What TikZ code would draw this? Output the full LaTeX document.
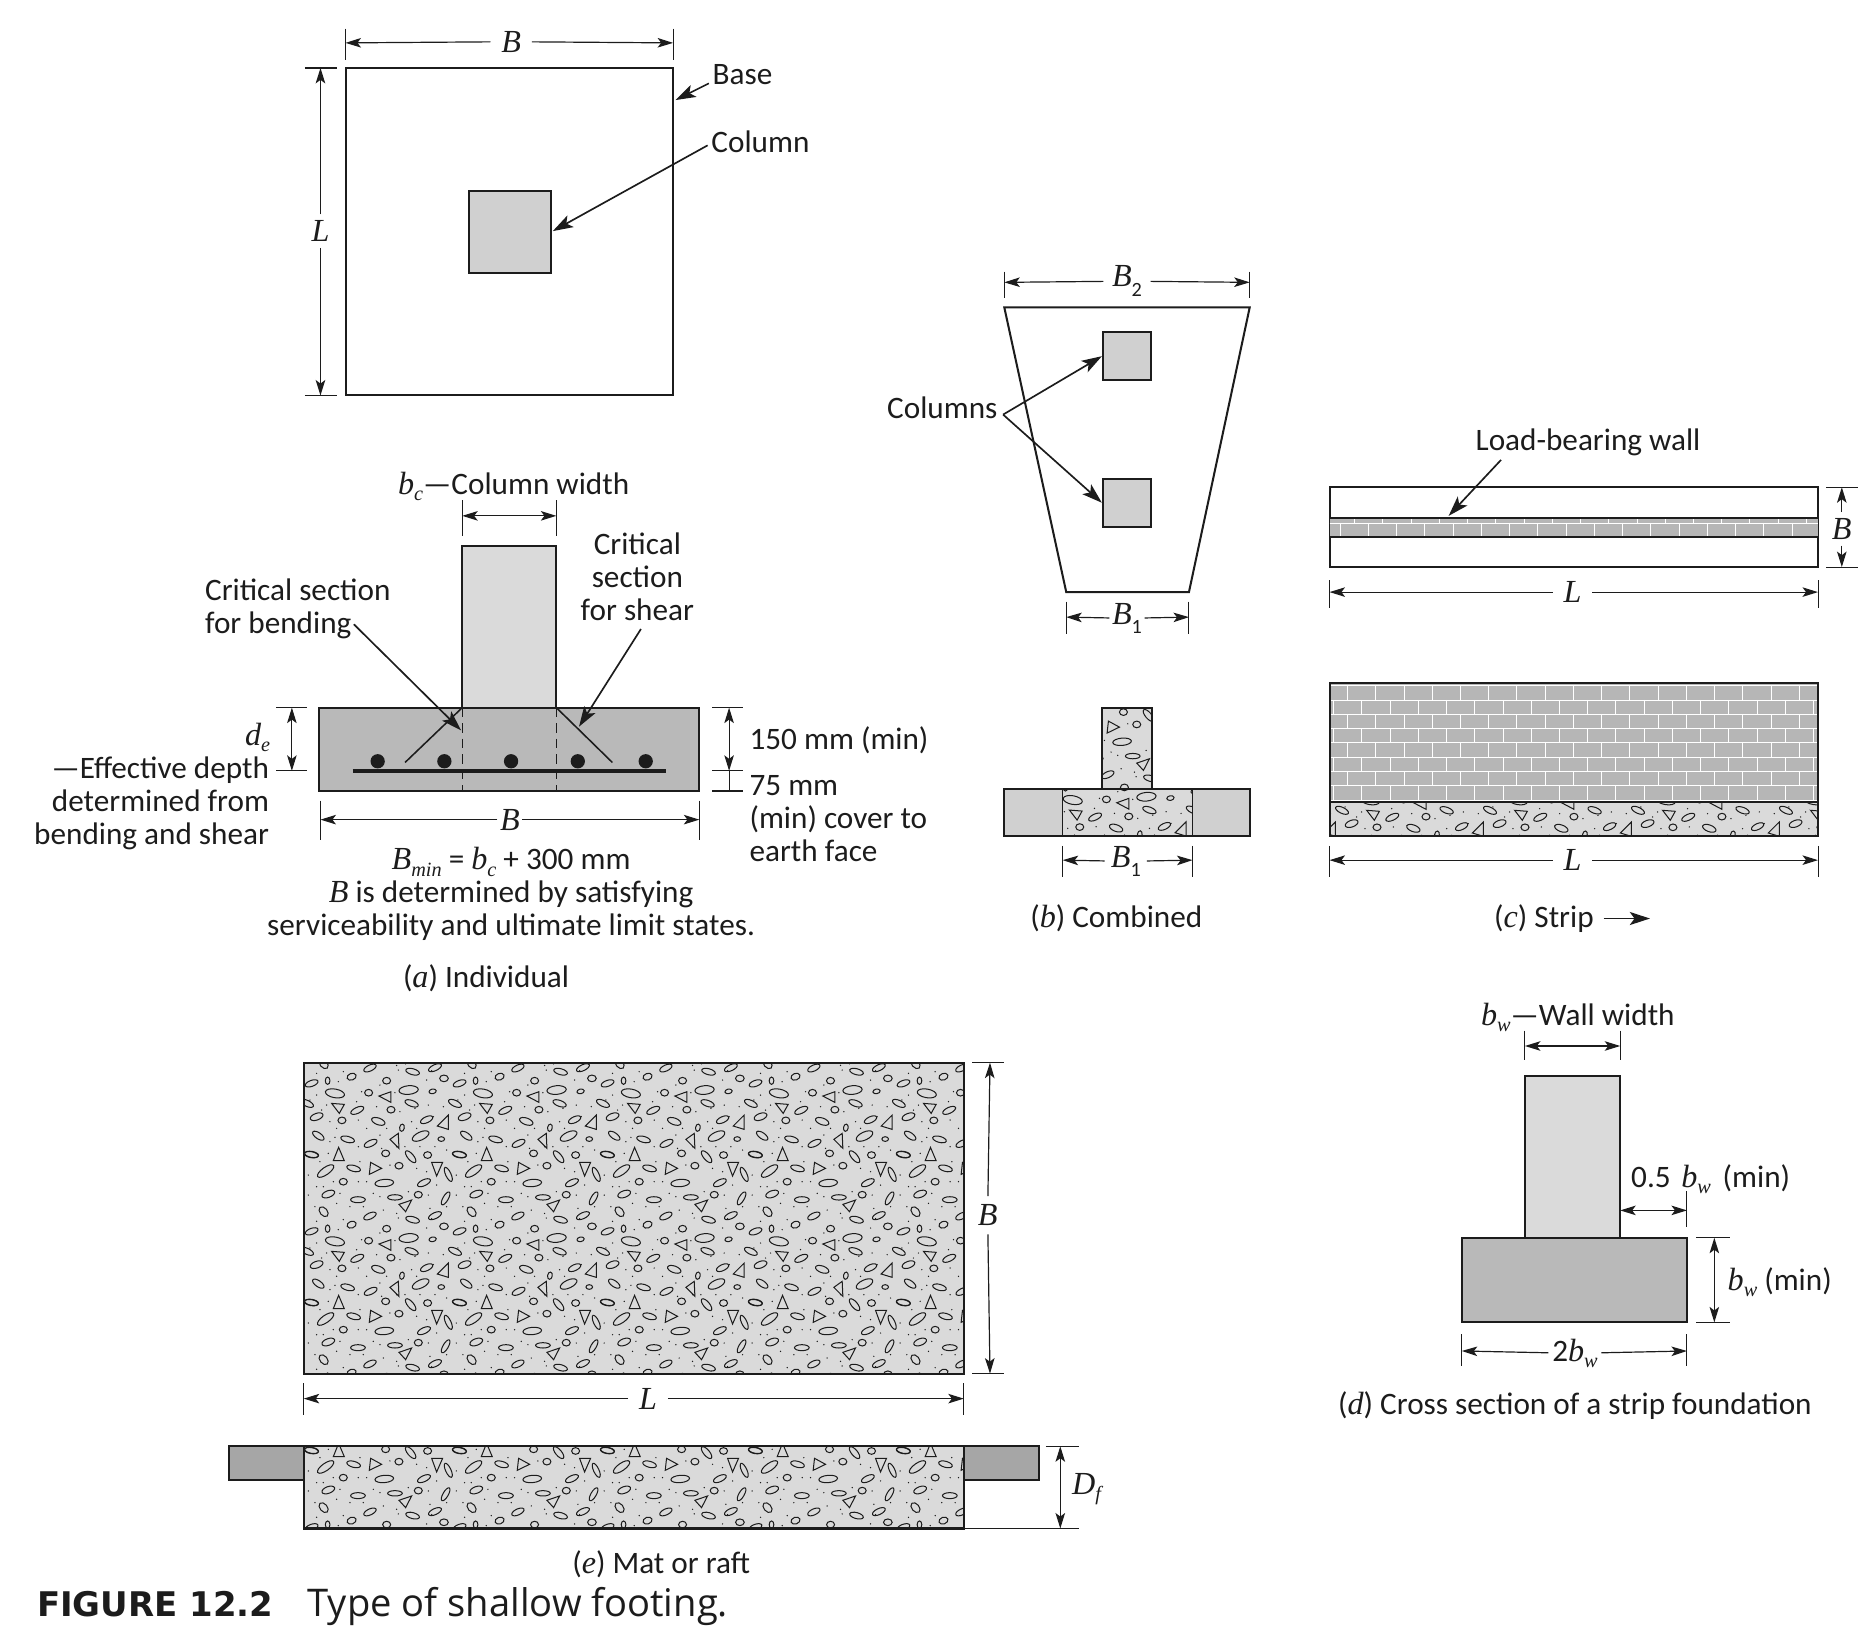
\documentclass[tikz,border=0pt]{standalone}
\usepackage{fontspec}
\usetikzlibrary{arrows.meta}
\setmainfont{Carlito}
\newfontfamily\symfont[Ligatures=TeX]{Liberation Serif}
\newfontfamily\headfont{DejaVu Sans}
\newfontfamily\titlefont{Open Sans}
\newcommand{\basefs}{\fontsize{26.2}{27.6}\selectfont}
\newcommand{\symfs}{\fontsize{27}{28}\selectfont}
\newcommand{\vv}[1]{{\symfs\symfont\itshape #1}}
\newcommand{\vsub}[1]{\raisebox{-0.2em}{\fontsize{17}{17}\selectfont\symfont\itshape #1}}
\newcommand{\nsub}[1]{\raisebox{-0.3em}{\fontsize{17}{17}\selectfont #1}}
\definecolor{ink}{HTML}{1C1C1C}
\definecolor{pale}{HTML}{DADADA}
\definecolor{colgray}{HTML}{D0D0D0}
\definecolor{basegray}{HTML}{B9B9B9}
\definecolor{brickgray}{HTML}{B6B6B6}
\definecolor{edgegray}{HTML}{A6A6A6}
\tikzset{
  lbl/.style={inner sep=0pt,text=ink,font=\basefs},
  symlbl/.style={inner sep=5pt,text=ink,font=\symfs},
  outline/.style={draw=ink,line width=1.7pt},
  tipline/.style={draw=ink,line width=1pt,-{Stealth[length=13pt,width=8pt,inset=3pt]}},
  tipboth/.style={draw=ink,line width=1pt,{Stealth[length=13pt,width=8pt,inset=3pt]}-{Stealth[length=13pt,width=8pt,inset=3pt]}},
  leader/.style={draw=ink,line width=1.4pt,-{Stealth[length=17pt,width=11pt,inset=4pt]}},
  extline/.style={draw=ink,line width=0.8pt},
  heavyext/.style={draw=ink,line width=1.2pt}
}
% One tile of the concrete hatch
\newcommand{\concretetile}{%
  \foreach \ex/\ey/\ea/\eb/\er in {
    270/54/20/9/25,398/65/21/9/-15,465/53/21/9/25,215/80/14/10/20,143/92/7/11/0,
    95/100/20/9/20,320/92/12/10/0,492/85/13/10/0,165/130/29/13/-10,266/128/12/10/0,
    386/120/29/13/5,458/124/11/7/10,525/160/21/9/-25,395/160/21/9/-20,232/181/21/9/25,
    333/179/12/10/0,110/200/20/10/20,186/211/12/10/0,295/214/21/10/-20,440/209/20/9/25,
    115/257/20/9/-35,366/233/7/11/-10,422/258/27/12/25,203/268/21/9/-15,272/280/21/9/25,
    484/267/10/7/0,95/313/21/9/-10,317/310/12/10/0,392/320/22/9/-50,443/315/12/10/0,
    538/314/21/9/-10,137/363/29/11/35,221/355/21/9/-15,357/347/12/10/0,505/373/23/8/-65,
    190/395/12/10/0,313/399/28/11/5,432/398/21/9/25,145/432/20/10/20,234/449/22/9/0,
    345/442/22/8/0,415/434/12/10/0,497/445/22/8/60,131/485/17/11/-50}
    {\draw[ink,line width=0.85pt,shift={(\ex,\ey)},rotate=\er] (0,0) ellipse ({\ea} and {\eb});}
  \foreach \ax/\ay/\bx/\by/\cx/\cy in {
    297/138/333/125/333/157,155/160/193/163/178/190,505/195/472/228/505/238,
    330/268/355/250/357/295,176/292/160/332/193/332,268/373/272/337/305/355,
    455/337/488/337/470/378,357/463/395/450/377/485}
    {\draw[ink,line width=0.85pt] (\ax,\ay) -- (\bx,\by) -- (\cx,\cy) -- cycle;}
  \foreach \dx/\dy in {
    110/70,190/65,175/95,300/105,355/60,455/62,440/90,345/128,245/125,110/135,90/150,
    140/165,125/180,230/155,290/170,360/185,405/175,445/165,490/170,150/215,170/235,
    235/210,260/235,320/235,395/215,410/235,460/200,150/275,165/262,235/290,300/255,
    305/295,350/290,375/290,420/290,465/290,500/300,145/310,120/335,85/375,240/335,
    330/345,410/355,440/365,260/395,235/395,160/395,110/410,85/435,130/410,180/430,
    280/430,300/440,385/425,445/435,470/405,500/470,105/470,170/460,210/470,250/470,
    310/480,350/490,450/475}
    {\fill[ink] (\dx,\dy) circle (2.2);}
}
% Concrete hatch clipped to a rectangle: corners, origin, then tile numbers across and down
\newcommand{\concretebox}[8]{%
  \fill[pale] (#1,#2) rectangle (#3,#4);
  \begin{scope}
    \clip (#1,#2) rectangle (#3,#4);
    \foreach \ti in {#7} {
      \foreach \tj in {#8} {
        \begin{scope}[shift={({#5+\ti*124.2},{#6+\tj*124.2})},x=0.2798pt,y=-0.2798pt]
          \concretetile
        \end{scope}
      }
    }
  \end{scope}
}
\begin{document}
\begin{tikzpicture}[x=1pt,y=-1pt]
  \useasboundingbox (0,0) rectangle (1568,1364.9);

  % Individual footing, plan
  \node[draw=ink,line width=1.7pt,fill=white,inner sep=0pt,minimum size=274.5pt] (basePlan) at (427.5,194.5) {};
  \node[draw=ink,line width=1.7pt,fill=colgray,inner sep=0pt,minimum size=69pt] (colPlan) at (428,195) {};
  \node[symlbl,inner sep=9pt] (planB) at (429,35) {\vv{B}};
  \coordinate (planBl) at (290,36);
  \coordinate (planBr) at (565,36);
  \draw[tipline] (planB) -- (planBl);
  \draw[tipline] (planB) -- (planBr);
  \draw[extline] (290,24) -- (290,50);
  \draw[extline] (565,24) -- (565,50);
  \node[symlbl] (planL) at (269,194) {\vv{L}};
  \coordinate (planLt) at (269,57);
  \coordinate (planLb) at (269,332);
  \draw[tipline,line width=1.4pt] (planL) -- (planLt);
  \draw[tipline,line width=1.4pt] (planL) -- (planLb);
  \draw[heavyext] (256,57) -- (283,57);
  \draw[heavyext] (256,332) -- (283,332);
  \node[lbl,anchor=west] (baseLbl) at (598,63) {Base};
  \node[lbl,anchor=west] (colLbl) at (597,119) {Column};
  \coordinate (baseTip) at (567,84);
  \coordinate (colTip) at (464,194);
  \draw[leader] (baseLbl.west) ++(-3,7) -- (baseTip);
  \draw[leader] (colLbl.west) ++(-3,3) -- (colTip);

  % Individual footing, section
  \coordinate (stemTL) at (388,458);
  \coordinate (stemBR) at (467,594);
  \coordinate (footTL) at (268,594);
  \coordinate (footBR) at (587,664);
  \draw[outline,fill=pale] (stemTL) rectangle (stemBR);
  \draw[outline,fill=basegray] (footTL) rectangle (footBR);
  \draw[extline,line width=1.1pt,dash pattern=on 8pt off 5pt] (388,594) -- (388,664);
  \draw[extline,line width=1.1pt,dash pattern=on 8pt off 5pt] (467,594) -- (467,664);
  \coordinate (barL) at (296,647);
  \coordinate (barR) at (559,647);
  \draw[ink,line width=3pt] (barL) -- (barR);
  \foreach \bx in {317,373,429,485,542}
    \fill[ink] (\bx,639) circle (6);
  \draw[ink,line width=1.3pt] (388,594) -- (340,640);
  \draw[ink,line width=1.3pt] (467,594) -- (514,640);
  \node[lbl,anchor=west] (bcLbl) at (334,408) {\vv{b}\vsub{c}---Column width};
  \coordinate (bcL) at (388,433);
  \coordinate (bcR) at (467,433);
  \draw[tipboth] (bcL) -- (bcR);
  \draw[extline] (388,420) -- (388,450);
  \draw[extline] (467,420) -- (467,450);
  \node[lbl,align=center] (shearLbl) at (535,484) {Critical\\section\\for shear};
  \node[lbl,align=left,anchor=west] (bendLbl) at (172,511) {Critical section\\for bending};
  \coordinate (bendTip) at (387,613);
  \coordinate (shearTip) at (486,610);
  \draw[leader] (297,524) -- (bendTip);
  \draw[leader] (538,528) -- (shearTip);
  \node[lbl,anchor=east] (deLbl) at (227,619) {\vv{d}\vsub{e}};
  \coordinate (deT) at (245,594);
  \coordinate (deB) at (245,647);
  \draw[tipboth] (deT) -- (deB);
  \draw[extline] (232,594) -- (258,594);
  \draw[extline] (232,647) -- (258,647);
  \node[lbl,align=right,anchor=north east] (effLbl) at (226,635) {---Effective depth\\determined from\\bending and shear};
  \coordinate (minT) at (612,594);
  \coordinate (minB) at (612,647);
  \draw[tipboth] (minT) -- (minB);
  \draw[extline] (612,647) -- (612,664);
  \draw[extline] (598,594) -- (624,594);
  \draw[extline] (598,647) -- (624,647);
  \draw[heavyext] (598,664) -- (624,664);
  \node[lbl,anchor=west] (minLbl) at (629,621) {150 mm (min)};
  \node[lbl,align=left,anchor=north west] (coverLbl) at (629,651) {75 mm\\(min) cover to\\earth face};
  \node[symlbl,inner sep=2pt] (secB) at (428,688) {\vv{B}};
  \coordinate (secBl) at (269,688);
  \coordinate (secBr) at (587,688);
  \draw[tipline] (secB) -- (secBl);
  \draw[tipline] (secB) -- (secBr);
  \draw[extline] (269,672) -- (269,705);
  \draw[extline] (587,672) -- (587,705);
  \node[lbl,align=center] (noteLbl) at (429,750.5) {\vv{B}\vsub{min} = \vv{b}\vsub{c} + 300 mm\\\vv{B} is determined by satisfying\\serviceability and ultimate limit states.};
  \node[lbl] (capA) at (408,821) {(\vv{a}) Individual};

  % Combined footing, plan
  \coordinate (trapA) at (843,258);
  \coordinate (trapB) at (1049,258);
  \coordinate (trapC) at (998,497);
  \coordinate (trapD) at (895,497);
  \draw[outline] (trapA) -- (trapB) -- (trapC) -- (trapD) -- cycle;
  \node[draw=ink,line width=1.7pt,fill=colgray,inner sep=0pt,minimum size=40.5pt] (colUp) at (946,299) {};
  \node[draw=ink,line width=1.7pt,fill=colgray,inner sep=0pt,minimum size=40.5pt] (colDn) at (946,422) {};
  \node[lbl] (colsLbl) at (791,342) {Columns};
  \coordinate (colsOut) at (842,348);
  \draw[leader] (colsOut) -- (colUp.west);
  \draw[leader] (colsOut) -- (colDn.west);
  \node[symlbl,inner sep=7pt] (combB2) at (946,236) {\vv{B}\nsub{2}};
  \coordinate (combB2l) at (843,237);
  \coordinate (combB2r) at (1049,237);
  \draw[tipline] (combB2) -- (combB2l);
  \draw[tipline] (combB2) -- (combB2r);
  \draw[extline] (843,228) -- (843,250);
  \draw[extline] (1049,228) -- (1049,250);
  \node[symlbl,inner sep=2pt] (combB1) at (946,519) {\vv{B}\nsub{1}};
  \coordinate (combB1l) at (895,518);
  \coordinate (combB1r) at (998,518);
  \draw[tipline] (combB1) -- (combB1l);
  \draw[tipline] (combB1) -- (combB1r);
  \draw[extline] (895,505) -- (895,532);
  \draw[extline] (998,505) -- (998,532);

  % Combined footing, section
  \draw[outline,fill=colgray] (843,662) rectangle (1049,702);
  \concretebox{925}{594}{967}{662}{854.3}{635.2}{0}{-1,0}
  \concretebox{892}{662}{1001}{702}{854.3}{635.2}{0,1}{-1,0}
  \draw[outline] (925,594) rectangle (967,662);
  \draw[outline] (843,662) rectangle (1049,702);
  \draw[extline,line width=1.1pt] (892,662) -- (892,702);
  \draw[extline,line width=1.1pt] (1001,662) -- (1001,702);
  \node[symlbl] (combSec) at (945,723) {\vv{B}\nsub{1}};
  \coordinate (combSecL) at (892,722);
  \coordinate (combSecR) at (1001,722);
  \draw[tipline] (combSec) -- (combSecL);
  \draw[tipline] (combSec) -- (combSecR);
  \draw[extline] (892,710) -- (892,736);
  \draw[extline] (1001,710) -- (1001,736);
  \node[lbl] (capB) at (937,771) {(\vv{b}) Combined};

  % Strip footing, plan
  \coordinate (stripTL) at (1116,409);
  \coordinate (stripBR) at (1526,476);
  \draw[outline] (stripTL) rectangle (stripBR);
  \fill[brickgray] (1116,435) rectangle (1526,451);
  \draw[white,line width=0.6pt] (1116,439) -- (1526,439);
  \foreach \k in {0,...,17}
    \draw[white,line width=0.8pt] ({1125+23.7*\k},439) -- ({1125+23.7*\k},451);
  \foreach \k in {0,...,16}
    \draw[white,line width=0.6pt] ({1137+23.7*\k},435) -- ({1137+23.7*\k},439);
  \draw[ink,line width=1.7pt] (1116,435) -- (1526,435);
  \draw[ink,line width=1.7pt] (1116,451) -- (1526,451);
  \node[lbl] (wallLbl) at (1333,371) {Load-bearing wall};
  \coordinate (wallTip) at (1216,433);
  \draw[leader] (1260,386) -- (wallTip);
  \node[symlbl] (stripB) at (1546,444) {\vv{B}};
  \coordinate (stripBt) at (1546,409);
  \coordinate (stripBb) at (1546,476);
  \draw[tipline] (stripB) -- (stripBt);
  \draw[tipline] (stripB) -- (stripBb);
  \draw[extline] (1533,409) -- (1560,409);
  \draw[extline] (1533,476) -- (1560,476);
  \node[symlbl,inner sep=9pt] (stripL) at (1320,497) {\vv{L}};
  \coordinate (stripLl) at (1116,497);
  \coordinate (stripLr) at (1526,497);
  \draw[tipline] (stripL) -- (stripLl);
  \draw[tipline] (stripL) -- (stripLr);
  \draw[extline] (1116,487) -- (1116,510);
  \draw[extline] (1526,487) -- (1526,510);

  % Strip footing, section: brick courses over the concrete
  \fill[brickgray] (1116,573) rectangle (1526,673);
  \begin{scope}
    \clip (1116,573) rectangle (1526,673);
    \foreach \r in {0,...,8} {
      \draw[white,line width=0.6pt] (1116,{575.5+12*\r}) -- (1526,{575.5+12*\r});
      \pgfmathsetmacro{\shiftx}{mod(\r,2)==0 ? 1131 : 1143}
      \foreach \k in {-1,...,17}
        \draw[white,line width=0.6pt] ({\shiftx+23.7*\k},{575.5+12*\r}) -- ({\shiftx+23.7*\k},{587.5+12*\r});
    }
  \end{scope}
  \concretebox{1116}{673}{1526}{702}{1103.8}{635.4}{-1,0,...,3}{0}
  \draw[outline] (1116,573) rectangle (1526,702);
  \draw[ink,line width=2pt] (1116,673) -- (1526,673);
  \node[symlbl,inner sep=9pt] (wallL) at (1320,722) {\vv{L}};
  \coordinate (wallLl) at (1116,722);
  \coordinate (wallLr) at (1526,722);
  \draw[tipline] (wallL) -- (wallLl);
  \draw[tipline] (wallL) -- (wallLr);
  \draw[extline] (1116,710) -- (1116,736);
  \draw[extline] (1526,710) -- (1526,736);
  \node[lbl,anchor=west] (capC) at (1254,771) {(\vv{c}) Strip};
  \coordinate (stripArrS) at (1346,771);
  \coordinate (stripArrE) at (1385,771);
  \draw[leader,line width=1.2pt] (stripArrS) -- (stripArrE);

  % Cross section of the strip foundation
  \draw[outline,fill=pale] (1280,903) rectangle (1360,1039);
  \draw[outline,fill=basegray] (1227,1039) rectangle (1416,1110);
  \node[lbl,anchor=west] (bwLbl) at (1243,854) {\vv{b}\vsub{w}---Wall width};
  \coordinate (bwL) at (1280,878);
  \coordinate (bwR) at (1360,878);
  \draw[tipboth] (bwL) -- (bwR);
  \draw[extline] (1280,865) -- (1280,890);
  \draw[extline] (1360,865) -- (1360,890);
  \node[lbl,anchor=west] (halfLbl) at (1369,990) {0.5\hspace{3pt} \vv{b}\vsub{w}\hspace{4pt} (min)};
  \coordinate (halfL) at (1360,1016);
  \coordinate (halfR) at (1416,1016);
  \draw[tipboth] (halfL) -- (halfR);
  \draw[extline] (1416,1000) -- (1416,1030);
  \coordinate (depT) at (1439,1039);
  \coordinate (depB) at (1439,1110);
  \draw[tipboth] (depT) -- (depB);
  \draw[extline] (1424,1039) -- (1452,1039);
  \draw[extline] (1424,1110) -- (1452,1110);
  \node[lbl,anchor=west] (depLbl) at (1450,1076) {\vv{b}\vsub{w} (min)};
  \node[lbl,inner sep=3pt] (twoLbl) at (1322,1136) {2\vv{b}\vsub{w}};
  \coordinate (twoL) at (1227,1134);
  \coordinate (twoR) at (1416,1134);
  \draw[tipline] (twoLbl) -- (twoL);
  \draw[tipline] (twoLbl) -- (twoR);
  \draw[extline] (1227,1120) -- (1227,1147);
  \draw[extline] (1416,1120) -- (1416,1147);
  \node[lbl] (capD) at (1322,1180) {(\vv{d}) Cross section of a strip foundation};

  % Mat footing, plan
  \concretebox{255}{892}{809}{1153}{235}{881.4}{-1,0,...,4}{-1,0,1,2}
  \draw[outline] (255,892) rectangle (809,1153);
  \node[symlbl,inner sep=7pt] (matB) at (829,1020) {\vv{B}};
  \coordinate (matBt) at (831,892);
  \coordinate (matBb) at (831,1153);
  \draw[tipline] (matB) -- (matBt);
  \draw[tipline] (matB) -- (matBb);
  \draw[extline] (816,892) -- (843,892);
  \draw[extline] (816,1153) -- (843,1153);
  \node[symlbl,inner sep=9pt] (matL) at (544,1174) {\vv{L}};
  \coordinate (matLl) at (255,1174);
  \coordinate (matLr) at (809,1174);
  \draw[tipline] (matL) -- (matLl);
  \draw[tipline] (matL) -- (matLr);
  \draw[extline] (255,1161) -- (255,1188);
  \draw[extline] (809,1161) -- (809,1188);

  % Mat footing, section
  \draw[outline,fill=edgegray] (192,1214) rectangle (255,1242);
  \draw[outline,fill=edgegray] (809,1214) rectangle (872,1242);
  \concretebox{255}{1214}{809}{1283}{235}{881.4}{-1,0,...,4}{1,2,3}
  \draw[outline] (255,1214) rectangle (809,1283);
  \coordinate (dfT) at (890,1214);
  \coordinate (dfB) at (890,1283);
  \draw[tipboth] (dfT) -- (dfB);
  \draw[extline] (878,1214) -- (906,1214);
  \draw[extline] (809,1283) -- (906,1283);
  \node[lbl] (dfLbl) at (912,1250) {\vv{D}\vsub{f}};
  \node[lbl] (capE) at (555,1313) {(\vv{e}) Mat or raft};

  % Figure caption
  \node[inner sep=0pt,anchor=base west,text=ink,font=\headfont\bfseries\fontsize{28.5}{30}\selectfont] (figNum) at (31,1357) {FIGURE 12.2};
  \node[inner sep=0pt,anchor=base west,text=ink,font=\titlefont\fontsize{32}{34}\selectfont] (figTitle) at (258,1357) {Type of shallow footing.};
\end{tikzpicture}
\end{document}
